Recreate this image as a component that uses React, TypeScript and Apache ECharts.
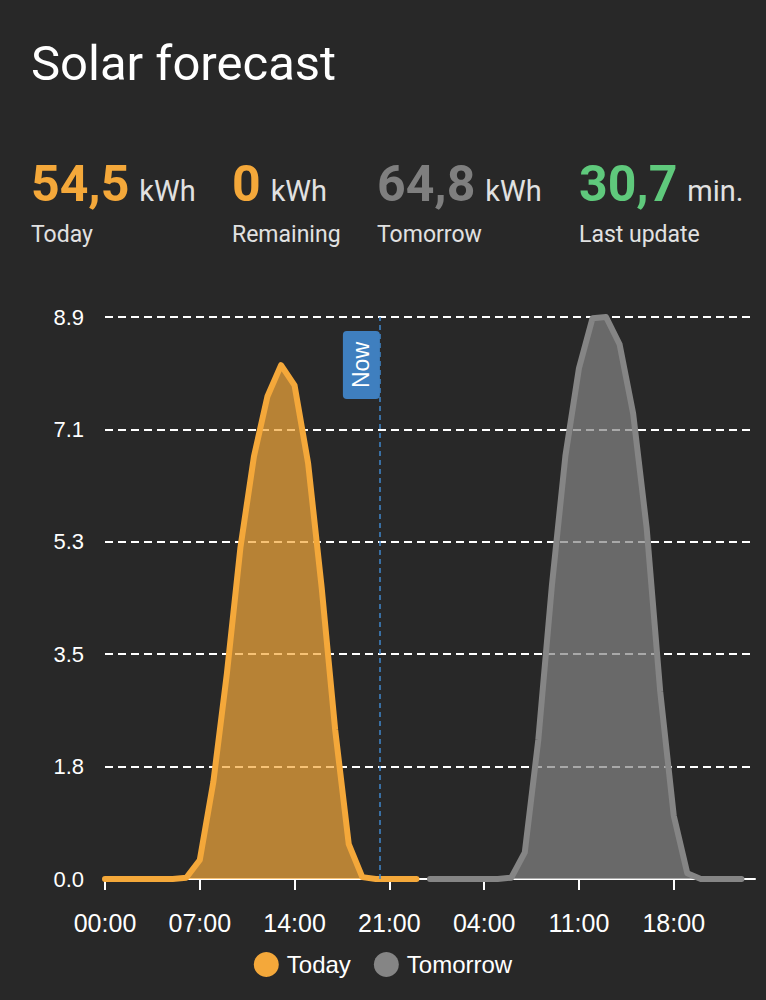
import React, { useEffect, useRef } from "react";
import * as echarts from "echarts";

// ---- data ----
const HOURS_TODAY = [0, 1, 2, 3, 4, 5, 6, 7, 8, 9, 10, 11, 12, 13, 14, 15, 16, 17, 18, 19, 20, 21, 22, 23];
const TODAY_KWH = [0, 0, 0, 0, 0, 0, 0.02, 0.3, 1.53, 3.24, 5.23, 6.67, 7.62, 8.11, 7.79, 6.56, 4.6, 2.35, 0.55, 0.03, 0, 0, 0, 0];
const HOURS_TOMORROW = [24, 25, 26, 27, 28, 29, 30, 31, 32, 33, 34, 35, 36, 37, 38, 39, 40, 41, 42, 43, 44, 45, 46, 47];
const TOMORROW_KWH = [0, 0, 0, 0, 0, 0, 0.02, 0.42, 2.2, 4.63, 6.68, 8.06, 8.85, 8.87, 8.44, 7.35, 5.54, 2.96, 1.0, 0.09, 0, 0, 0, 0];
const X_TICKS = [0, 7, 14, 21, 28, 35, 42];
const X_MAX = 48;
const Y_MAX = 8.87;
const Y_SPLITS = 5;
const NOW_HOUR = 20.3;

const STAT_VALUES = ["54,5", "0", "64,8", "30,7"];
const STAT_UNITS = ["kWh", "kWh", "kWh", "min."];
const STAT_LABELS = ["Today", "Remaining", "Tomorrow", "Last update"];
const STAT_COLORS = ["#f4a83a", "#f4a83a", "#7f7f7f", "#5fc97c"];
const STAT_X = [31, 232, 377, 579];

const BG = "#282828";
const ORANGE = "#f4a83a";
const GRAY = "#858585";
const CHART_FONT = "'Liberation Sans', Arial, Helvetica, sans-serif";
const HEAD_FONT = "Roboto, 'Noto Sans', sans-serif";

export default function App() {
  const ref = useRef<HTMLDivElement>(null);

  useEffect(() => {
    if (!ref.current) return;
    const chart = echarts.init(ref.current, undefined, { renderer: "svg" });

    const todayData = HOURS_TODAY.map((h, i) => [h, TODAY_KWH[i]]);
    const tomorrowData = HOURS_TOMORROW.map((h, i) => [h, TOMORROW_KWH[i]]);

    const graphics: any[] = [
      {
        type: "text",
        x: 31,
        y: 63,
        style: {
          text: "Solar forecast",
          fill: "#ffffff",
          fontSize: 49,
          fontFamily: HEAD_FONT,
          fontWeight: 400,
          verticalAlign: "middle",
          align: "left",
        },
      },
    ];
    STAT_VALUES.forEach((v, i) => {
      graphics.push({
        type: "text",
        x: STAT_X[i],
        y: 184,
        style: {
          text: `{v|${v}}{u|${STAT_UNITS[i]}}`,
          verticalAlign: "middle",
          align: "left",
          rich: {
            v: {
              fontSize: 50,
              fontWeight: "bold",
              fontFamily: HEAD_FONT,
              fill: STAT_COLORS[i],
              color: STAT_COLORS[i],
            },
            u: {
              fontSize: 29,
              fontFamily: HEAD_FONT,
              fill: "#e1e1e1",
              color: "#e1e1e1",
              padding: [13, 0, 0, 10],
            },
          },
        },
      });
      graphics.push({
        type: "text",
        x: STAT_X[i],
        y: 234,
        style: {
          text: STAT_LABELS[i],
          fill: "#e1e1e1",
          fontSize: 23,
          fontFamily: HEAD_FONT,
          verticalAlign: "middle",
          align: "left",
        },
      });
    });

    chart.setOption({
      animation: false,
      backgroundColor: BG,
      textStyle: { fontFamily: CHART_FONT },
      graphic: graphics,
      grid: { left: 105, right: 11, top: 317, bottom: 121, containLabel: false },
      legend: {
        data: ["Today", "Tomorrow"],
        top: 947,
        left: "center",
        icon: "circle",
        itemWidth: 25,
        itemHeight: 25,
        itemGap: 23,
        textStyle: { color: "#ffffff", fontSize: 24, fontFamily: CHART_FONT, padding: [0, 0, 0, 3] },
      },
      xAxis: {
        type: "value",
        min: 0,
        max: X_MAX,
        splitLine: { show: false },
        axisLine: { show: true, lineStyle: { color: "#ffffff", width: 2 } },
        axisTick: {
          show: true,
          length: 11,
          lineStyle: { color: "#ffffff", width: 2 },
          customValues: X_TICKS,
        },
        axisLabel: {
          color: "#ffffff",
          fontSize: 25,
          fontFamily: CHART_FONT,
          margin: 31,
          customValues: X_TICKS,
          formatter: (v: number) => {
            const h = ((Math.round(v) % 24) + 24) % 24;
            return (h < 10 ? "0" : "") + h + ":00";
          },
        },
      },
      yAxis: {
        type: "value",
        min: 0,
        max: Y_MAX,
        interval: Y_MAX / Y_SPLITS,
        axisLine: { show: false },
        axisTick: { show: false },
        splitLine: { show: true, lineStyle: { color: "#ffffff", width: 2, type: [8, 5] } },
        axisLabel: {
          color: "#ffffff",
          fontSize: 22,
          fontFamily: CHART_FONT,
          margin: 21,
          padding: [0, 0, 8, 0],
          formatter: (v: number) => v.toFixed(1),
        },
      },
      series: [
        {
          name: "Today",
          type: "line",
          data: todayData,
          showSymbol: false,
          symbol: "none",
          smooth: false,
          itemStyle: { color: ORANGE },
          lineStyle: { color: ORANGE, width: 6, join: "round", cap: "round" },
          areaStyle: { color: ORANGE, opacity: 0.7 },
          z: 3,
          markLine: {
            silent: true,
            symbol: "none",
            lineStyle: { color: "#3f86cc", width: 1.5, type: [5, 4] },
            label: {
              show: true,
              formatter: "Now",
              position: "insideEndTop",
              distance: [14, 0],
              color: "#ffffff",
              fontSize: 23,
              fontFamily: CHART_FONT,
              backgroundColor: "#3f7fbf",
              borderRadius: 4,
              padding: [7, 11],
            },
            data: [{ xAxis: NOW_HOUR }],
          },
        },
        {
          name: "Tomorrow",
          type: "line",
          data: tomorrowData,
          showSymbol: false,
          symbol: "none",
          smooth: false,
          itemStyle: { color: GRAY },
          lineStyle: { color: GRAY, width: 6, join: "round", cap: "round" },
          areaStyle: { color: GRAY, opacity: 0.7 },
          z: 3,
        },
      ],
    });

    return () => {
      chart.dispose();
    };
  }, []);

  return (
    <div style={{ position: "fixed", left: 0, top: 0, width: 766, height: 1000, background: BG }}>
      <div ref={ref} style={{ width: 766, height: 1000 }} />
    </div>
  );
}
